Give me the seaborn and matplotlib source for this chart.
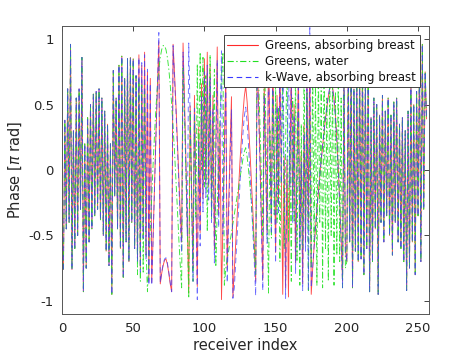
import matplotlib
matplotlib.use("Agg")

import numpy as np
import matplotlib.pyplot as plt
import seaborn as sns

# -------- data (phase in units of pi, receiver 1..256)
# receivers 1-52: the three curves lie on top of each other
head_shared = [
    -0.76, 0.38, -0.45, 0.62, -0.40, 0.96, -0.76, 0.30, -0.60, 0.55,
    -0.50, 0.62, -0.30, 0.86, -0.93, 0.20, -0.75, 0.40, -0.55, 0.50,
    -0.45, 0.58, -0.35, 0.60, -0.30, 0.62, -0.38, 0.55, -0.50, 0.45,
    -0.62, 0.35, -0.73, 0.20, -0.95, 0.76, -0.20, 0.55, -0.45, 0.80,
    -0.60, 0.87, -0.82, 0.70, -0.55, 0.85, -0.70, 0.86, -0.40, 0.85,
    -0.60, 0.72,
]

# receivers 53-199
greens_breast_mid = [
    -0.68, 0.88, -0.75, 0.80, -0.50, 0.90, -0.65, 0.75, -0.85, 0.70,
    -0.86, -0.50, -0.10, 0.28, 0.64, 0.98, -0.87, -0.79, -0.73, -0.69,
    -0.68, -0.72, -0.79, -0.87, -0.93, 0.96, 0.74, 0.50, 0.24, -0.04,
    -0.32, -0.55, 0.97, 0.55, 0.09, -0.41, -0.94, 0.49, -0.12, -0.75,
    0.57, -0.14, -0.89, 0.33, -0.48, 0.66, -0.22, 0.85, -0.11, 0.90,
    -0.13, 0.80, -0.30, 0.57, -0.61, 0.19, 0.94, -0.34, 0.35, -0.99,
    -0.39, 0.19, 0.74, -0.76, -0.28, 0.16, 0.56, -0.97, -0.76, -0.55,
    -0.34, -0.13, 0.07, 0.25, 0.42, 0.56, 0.64, 0.52, 0.34, 0.14,
    -0.08, -0.31, -0.56, -0.85, 0.85, 0.53, 0.11, -0.35, -0.84, 0.65,
    0.10, -0.48, 0.91, 0.26, -0.41, 0.88, 0.14, -0.63, 0.57, -0.26,
    0.88, -0.02, -0.95, 0.10, -0.90, 0.08, -0.97, -0.05, 0.83, -0.32,
    0.50, -0.71, 0.05, 0.78, -0.53, 0.14, -0.87, 0.35, -0.55, 0.75,
    -0.40, 0.95, -0.95, -0.76, -0.59, -0.44, -0.30, -0.17, -0.05, 0.07,
    0.18, 0.29, 0.39, 0.48, 0.56, 0.62, 0.66, 0.63, 0.55, 0.42,
    0.24, 0.02, -0.24, -0.52, -0.85, 0.78, -0.62,
]

greens_water_mid = [
    -0.80, 0.70, -0.85, 0.65, -0.78, 0.60, -0.60, -0.93, -0.70, -0.45,
    -0.20, 0.05, 0.28, 0.48, 0.64, 0.77, 0.86, 0.92, 0.95, 0.95,
    0.92, 0.86, 0.77, 0.65, 0.50, 0.33, 0.14, -0.07, -0.29, -0.52,
    -0.72, -0.90, 0.79, 0.42, 0.01, -0.46, -0.98, 0.45, -0.18, -0.85,
    0.42, -0.36, 0.81, -0.08, 0.90, 0.00, 0.86, -0.13, 0.72, -0.47,
    0.28, 0.88, -0.37, 0.22, 0.77, -0.74, -0.30, 0.09, 0.42, 0.71,
    0.90, -0.88, -0.75, -0.68, -0.62, -0.55, -0.48, -0.41, -0.34, -0.27,
    -0.20, -0.13, -0.06, 0.01, 0.08, 0.14, 0.17, 0.10, 0.00, -0.12,
    -0.26, -0.42, -0.60, -0.80, 0.98, 0.70, 0.36, -0.04, -0.50, 0.98,
    0.40, -0.24, -0.94, 0.30, -0.52, 0.60, -0.34, 0.66, -0.40, 0.48,
    -0.70, 0.06, 0.76, -0.60, 0.20, 0.85, -0.55, 0.30, -0.85, 0.55,
    -0.40, 0.80, -0.70, 0.45, -0.88, 0.35, -0.60, 0.82, -0.45, 0.60,
    -0.92, 0.40, -0.75, 0.86, -0.55, 0.70, -0.88, 0.85, -0.40, 0.65,
    -0.90, 0.90, -0.60, 0.55, -0.85, 0.80, -0.50, 0.75, -0.88, 0.60,
    -0.65, 0.85, -0.70, 0.55, -0.90, 0.70, -0.75,
]

kwave_breast_mid = [
    -0.70, 0.86, -0.78, 0.82, -0.52, 0.88, -0.68, 0.77, -0.88, 0.66,
    -0.88, -0.52, -0.12, 0.30, 0.68, 1.05, -0.86, -0.78, -0.72, -0.68,
    -0.67, -0.71, -0.78, -0.86, -0.93, 0.95, 0.71, 0.46, 0.19, -0.10,
    -0.39, -0.63, 0.90, 0.47, 0.00, -0.50, 0.97, 0.40, -0.22, -0.85,
    0.47, -0.24, -0.99, 0.23, -0.58, 0.56, -0.32, 0.75, -0.21, 0.80,
    -0.23, 0.70, -0.40, 0.47, -0.71, 0.09, 0.84, -0.44, 0.25, 0.91,
    -0.49, 0.09, 0.64, -0.86, -0.38, 0.06, 0.46, -0.98, -0.90, -0.70,
    -0.49, -0.29, -0.09, 0.10, 0.27, 0.41, 0.48, 0.36, 0.18, -0.02,
    -0.24, -0.47, -0.70, -0.96, 0.74, 0.45, 0.03, -0.43, -0.92, 0.57,
    0.02, -0.56, 0.83, 0.18, -0.49, 0.80, 0.06, -0.71, 0.49, -0.34,
    0.80, -0.10, 0.97, 0.02, -0.98, 0.00, 0.95, -0.13, 0.75, -0.40,
    0.42, -0.79, -0.03, 0.70, -0.61, 0.06, -0.92, 0.28, -0.62, 0.68,
    -0.92, 1.15, -0.90, -0.74, -0.58, -0.43, -0.29, -0.16, -0.04, 0.08,
    0.19, 0.30, 0.40, 0.49, 0.57, 0.63, 0.66, 0.62, 0.53, 0.40,
    0.22, -0.01, -0.27, -0.56, -0.90, 0.78, -0.62,
]

# receivers 200-256: curves overlap again
tail_shared = [
    -0.70, 0.82, -0.55, 0.85, -0.90, 0.62, -0.62, 0.72, -0.70, 0.80,
    -0.68, 0.82, -0.80, 0.68, -0.60, 0.80, -0.93, 0.40, -0.70, 0.55,
    -0.45, 0.50, -0.95, 0.42, -0.40, 0.57, -0.55, 0.45, -0.35, 0.55,
    -0.50, 0.42, -0.65, 0.52, -0.40, 0.55, -0.55, 0.35, -0.60, 0.40,
    -0.70, 0.30, -0.92, 0.45, -0.75, 0.70, -0.55, 0.50, -0.80, 0.60,
    -0.35, 0.85, -0.70, 0.96, -0.30, 0.75, 0.39,
]

series_labels = ["Greens, absorbing breast", "Greens, water", "k-Wave, absorbing breast"]
x_ticks = [0, 50, 100, 150, 200, 250]
y_ticks = [-1, -0.5, 0, 0.5, 1]
y_tick_labels = ["-1", "-0.5", "0", "0.5", "1"]

greens_breast = head_shared + greens_breast_mid + tail_shared
greens_water = head_shared + greens_water_mid + tail_shared
kwave_breast = head_shared + kwave_breast_mid + tail_shared

# =========================
# FIGURE
# =========================
sns.set_theme(style="white")
plt.rcParams["font.family"] = ["DejaVu Sans"]
plt.rcParams["axes.unicode_minus"] = False
plt.rcParams["lines.scale_dashes"] = False

fig, ax = plt.subplots(figsize=(4.74, 3.55), dpi=100)
fig.subplots_adjust(left=62 / 474, right=429 / 474, bottom=1 - 314 / 355, top=1 - 26 / 355)

styles = [
    ("#ff2a2a", "-", 0.65, 0.85),
    ("#22e022", (0, (4.5, 1.8, 1.0, 1.8)), 0.65, 0.9),
    ("#3a3aff", (0, (4.0, 2.6)), 0.65, 0.75),
]
for values, label, (color, ls, lw, alpha) in zip(
    [greens_breast, greens_water, kwave_breast], series_labels, styles
):
    x = np.arange(1, len(values) + 1)
    sns.lineplot(
        x=x, y=values, color=color, linestyle=ls, linewidth=lw, alpha=alpha,
        label=label, sort=False, errorbar=None, ax=ax,
    )

ax.set_xlim(0, 257.7)
ax.set_ylim(-1.1, 1.1)
ax.set_xticks(x_ticks)
ax.set_yticks(y_ticks)
ax.set_yticklabels(y_tick_labels)
ax.tick_params(direction="in", length=3.5, width=0.6, top=True, right=True,
               labelsize=9.5, colors="#262626", pad=6)
for spine in ax.spines.values():
    spine.set_color("#555555")
    spine.set_linewidth(0.7)

ax.set_xlabel("receiver index", fontsize=10.5, color="#262626", labelpad=2)
ax.set_ylabel(r"Phase [$\pi$ rad]", fontsize=10.5, color="#262626", labelpad=3)

leg = ax.legend(loc="upper right", fontsize=8.5, frameon=True, fancybox=False,
                edgecolor="#262626", framealpha=1, borderaxespad=0.8,
                handlelength=2.6, handletextpad=0.6, borderpad=0.3,
                labelspacing=0.25)
leg.get_frame().set_linewidth(0.6)
for handle in leg.get_lines():
    handle.set_alpha(1)
    handle.set_linewidth(0.8)
for text in leg.get_texts():
    text.set_color("#111111")

plt.savefig("out.png", dpi=100)
plt.close()
